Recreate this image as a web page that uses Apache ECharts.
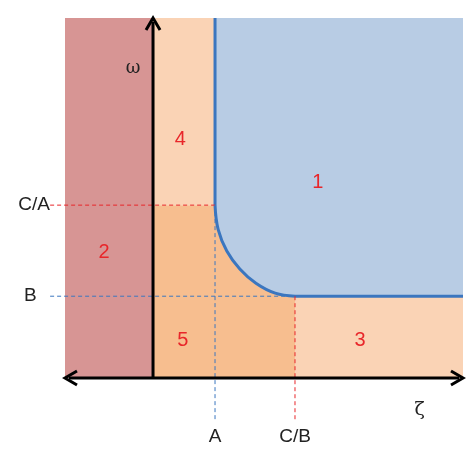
<!DOCTYPE html>
<html>
<head>
<meta charset="utf-8" />
<script src="https://cdn.jsdelivr.net/npm/echarts@6/dist/echarts.min.js"></script>
</head>
<body style="margin:0">
<div id="main" style="width:474px;height:455px;"></div>
<script type="text/javascript">
// key values on the axes (data units)
var xMin = -1.42, xMax = 5.0, yMax = 5.81;
var A = 1, CB = 2.29, CA = 2.79, B = 1.32;
// boundary curve between region 1 and region 5
var curve = [[1, 2.79], [1.05, 2.40], [1.19, 2.05], [1.40, 1.76], [1.66, 1.53], [1.97, 1.37], [2.29, 1.32]];
var regionLabels = [['1', 2.66, 3.16], ['2', -0.79, 2.03], ['3', 3.34, 0.61], ['4', 0.44, 3.855], ['5', 0.48, 0.61]];
var tickLabels = [['C/A', -1.92, 2.79], ['B', -1.98, 1.32], ['A', 1, -0.95], ['C/B', 2.29, -0.95], ['ζ', 4.3, -0.52]];

var myChart = echarts.init(document.getElementById('main'));

function renderItem(params, api) {
    function c(p) { return api.coord(p); }
    function poly(pts, fill) {
        return { type: 'polygon', shape: { points: pts.map(c), smooth: 0 }, style: { fill: fill } };
    }
    function dash(p1, p2, color) {
        var a = c(p1), b = c(p2);
        return { type: 'line', shape: { x1: a[0], y1: a[1], x2: b[0], y2: b[1] },
            style: { stroke: color, lineWidth: 1, lineDash: [4, 3] } };
    }
    function text(t, p, color, size, font) {
        var a = c(p);
        return { type: 'text', x: a[0], y: a[1], style: { text: t, fill: color, fontSize: size,
            fontFamily: font || 'Liberation Sans', align: 'center', verticalAlign: 'middle' } };
    }
    var rev = curve.slice().reverse();
    var ch = [];
    ch.push(poly([[xMin, 0], [0, 0], [0, yMax], [xMin, yMax]], '#d79594'));
    ch.push(poly([[0, CA], [A, CA], [A, yMax], [0, yMax]], '#fad3b5'));
    ch.push(poly([[CB, 0], [xMax, 0], [xMax, B], [CB, B]], '#fad3b5'));
    ch.push(poly([[A, yMax], [xMax, yMax], [xMax, B]].concat(rev), '#b8cce4'));
    ch.push(poly([[0, 0], [CB, 0]].concat(rev).concat([[0, CA]]), '#f7be8f'));
    ch.push({ type: 'polyline', shape: { points: curve.map(c), smooth: 0.4 },
        style: { stroke: '#3b76bf', lineWidth: 3, fill: null } });
    ch.push({ type: 'line', shape: { x1: c([CB, B])[0], y1: c([CB, B])[1], x2: c([xMax, B])[0], y2: c([xMax, B])[1] },
        style: { stroke: '#3b76bf', lineWidth: 3 } });
    ch.push({ type: 'line', shape: { x1: c([A, yMax])[0], y1: c([A, yMax])[1], x2: c([A, CA])[0], y2: c([A, CA])[1] },
        style: { stroke: '#3b76bf', lineWidth: 3 } });
    ch.push(dash([-1.66, CA], [A, CA], '#e8262a'));
    ch.push(dash([-1.66, B], [CB, B], '#3b76bf'));
    ch.push(dash([A, CA], [A, -0.68], '#3b76bf'));
    ch.push(dash([CB, B], [CB, -0.68], '#e8262a'));
    // axes
    var o = c([0, 0]), l = c([xMin, 0]), r = c([xMax, 0]), t = c([0, yMax]);
    ch.push({ type: 'line', shape: { x1: l[0] + 4, y1: o[1], x2: r[0] - 4, y2: o[1] }, style: { stroke: '#000', lineWidth: 3 } });
    ch.push({ type: 'line', shape: { x1: o[0], y1: o[1], x2: o[0], y2: t[1] + 4 }, style: { stroke: '#000', lineWidth: 3 } });
    ch.push({ type: 'polyline', shape: { points: [[r[0] - 12, o[1] - 7], [r[0], o[1]], [r[0] - 12, o[1] + 7]] }, style: { stroke: '#000', lineWidth: 3, fill: null } });
    ch.push({ type: 'polyline', shape: { points: [[l[0] + 12, o[1] - 7], [l[0], o[1]], [l[0] + 12, o[1] + 7]] }, style: { stroke: '#000', lineWidth: 3, fill: null } });
    ch.push({ type: 'polyline', shape: { points: [[o[0] - 7, t[1] + 12], [o[0], t[1]], [o[0] + 7, t[1] + 12]] }, style: { stroke: '#000', lineWidth: 3, fill: null } });
    regionLabels.forEach(function (d) { ch.push(text(d[0], [d[1], d[2]], '#e8262a', 20)); });
    tickLabels.forEach(function (d) { ch.push(text(d[0], [d[1], d[2]], '#222', 19, d[0] === 'ζ' ? 'DejaVu Serif' : null)); });
    ch.push(text('ω', [-0.32, 5.0], '#222', 18, 'DejaVu Serif'));
    return { type: 'group', children: ch };
}

myChart.setOption({
    animation: false,
    backgroundColor: '#fff',
    grid: { left: 65, right: 11, top: 18, bottom: 77 },
    xAxis: { type: 'value', min: xMin, max: xMax, show: false },
    yAxis: { type: 'value', min: 0, max: yMax, show: false },
    series: [{ type: 'custom', renderItem: renderItem, clip: false, data: [[0, 0]] }]
});
</script>
</body>
</html>
